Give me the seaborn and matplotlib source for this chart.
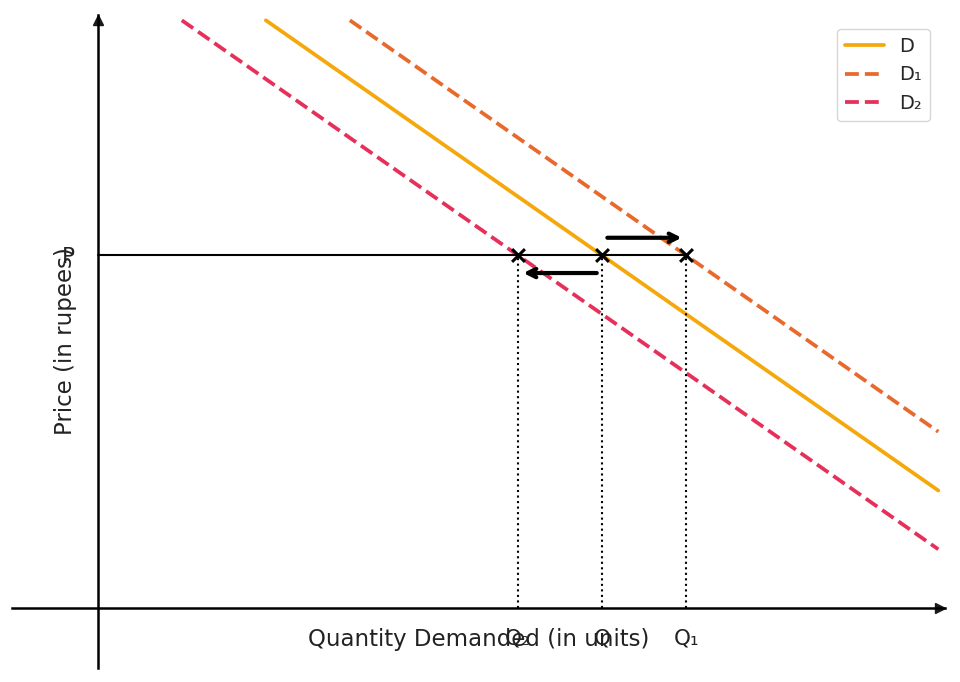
import matplotlib
matplotlib.use("Agg")
import matplotlib.pyplot as plt
import seaborn as sns
import pandas as pd

# Data
curve_names = ["D", "D\u2081", "D\u2082"]
d_q = [2, 10]
d_p = [10, 2]
d1_q = [3, 10]
d1_p = [10, 3]
d2_q = [1, 10]
d2_p = [10, 1]
price_level = 6
eq_q = [5, 6, 7]
eq_labels = ["Q\u2082", "Q", "Q\u2081"]
price_label = "P"
colors = ["#f5a80c", "#e8692b", "#e6305a"]

sns.set_theme(style="white")
plt.rcParams['font.family'] = ['DejaVu Sans']

fig = plt.figure(figsize=(9.6, 6.82), dpi=100)
ax = fig.add_axes([12 / 960, 14 / 682, 933 / 960, 653 / 682])

frames = []
for name, q, p in zip(curve_names, [d_q, d1_q, d2_q], [d_p, d1_p, d2_p]):
    frames.append(pd.DataFrame({"Quantity": q, "Price": p, "Curve": name}))
df = pd.concat(frames, ignore_index=True)

styles = {"D": "", "D\u2081": (3.7, 1.6), "D\u2082": (3.7, 1.6)}
sns.lineplot(data=df, x="Quantity", y="Price", hue="Curve", style="Curve",
             palette=dict(zip(curve_names, colors)), dashes=styles,
             linewidth=2.7, ax=ax, sort=False)

# price line and quantity guides
ax.plot([0, max(eq_q)], [price_level, price_level], color="black", lw=1.5, zorder=3)
for q in eq_q:
    ax.plot([q, q], [0, price_level], color="black", lw=1.5, ls=":", zorder=3)
ax.scatter(eq_q, [price_level] * len(eq_q), marker="x", color="black", s=85,
           linewidths=2.2, zorder=5)

# shift arrows
ax.annotate("", xy=(eq_q[2] - 0.02, price_level + 0.3), xytext=(eq_q[1] + 0.03, price_level + 0.3),
            arrowprops=dict(arrowstyle="->,head_width=0.25,head_length=0.5", lw=3, color="black"))
ax.annotate("", xy=(eq_q[0] + 0.03, price_level - 0.3), xytext=(eq_q[1] - 0.03, price_level - 0.3),
            arrowprops=dict(arrowstyle="->,head_width=0.25,head_length=0.5", lw=3, color="black"))

ax.set_xlim(-1.02, 10.08)
ax.set_ylim(-1.02, 10.09)

for s in ["top", "right"]:
    ax.spines[s].set_visible(False)
ax.spines["left"].set_position(("data", 0))
ax.spines["bottom"].set_position(("data", 0))
for s in ["left", "bottom"]:
    ax.spines[s].set_linewidth(1.8)
    ax.spines[s].set_color("black")
ax.plot(1 - 5 / 933, 0, ">k", transform=ax.get_yaxis_transform(), clip_on=False, ms=7)
ax.plot(0, 1 - 5 / 653, "^k", transform=ax.get_xaxis_transform(), clip_on=False, ms=7)

ax.set_xticks(eq_q)
ax.set_xticklabels(eq_labels)
ax.set_yticks([price_level])
ax.set_yticklabels([price_label])
ax.tick_params(axis="x", length=0, pad=14.5, labelsize=15.5, colors="#222222")
ax.tick_params(axis="y", length=0, pad=16.5, labelsize=15.5, colors="#222222")

ax.set_xlabel("Quantity Demanded (in units)", fontsize=16.5, color="#222222")
ax.set_ylabel("Price (in rupees)", fontsize=16.5, color="#222222")
ax.xaxis.set_label_coords(0.5, 0.061)
ax.yaxis.set_label_coords(0.07, 0.5)

leg = ax.legend(loc="upper right", fontsize=14, frameon=True, handlelength=2.0,
                borderaxespad=0, bbox_to_anchor=(918 / 933, 639 / 653))
leg.set_title(None)

fig.savefig("out.png", dpi=100)
